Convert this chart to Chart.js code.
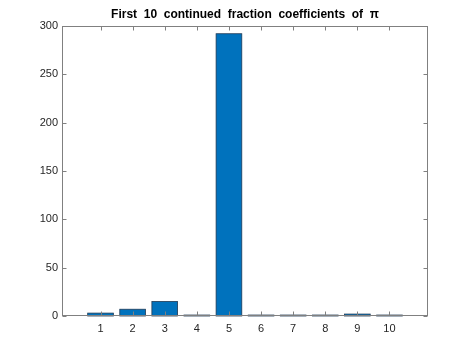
<!DOCTYPE html>
<html>
<head>
<meta charset="utf-8">
<script src="https://cdn.jsdelivr.net/npm/chart.js@4"></script>
<style>
  html, body { margin: 0; padding: 0; background: #fff; }
  #wrap { width: 474px; height: 355px; }
</style>
</head>
<body>
<div id="wrap"><canvas id="cf"></canvas></div>
<script>
// data
const positions = [1, 2, 3, 4, 5, 6, 7, 8, 9, 10];
const coeffs = [3, 7, 15, 1, 292, 1, 1, 1, 2, 1];
const yTicks = [0, 50, 100, 150, 200, 250, 300];
const titleText = 'First  10  continued  fraction  coefficients  of  \u03c0';

const axisGray = '#808080';
const barEdge = '#1f3a55';
const tickLen = 4;

// bar edges drawn centred on the bar outline, like MATLAB does
const barEdges = {
    id: 'barEdges',
    afterDatasetsDraw(chart) {
        const ctx = chart.ctx;
        ctx.save();
        ctx.strokeStyle = barEdge;
        ctx.lineWidth = 0.8;
        chart.getDatasetMeta(0).data.forEach(bar => {
            const p = bar.getProps(['x', 'y', 'base', 'width'], true);
            ctx.strokeRect(p.x - p.width / 2, p.y, p.width, p.base - p.y);
        });
        ctx.restore();
    }
};

// box around the plot + inward tick marks
const boxTicks = {
    id: 'boxTicks',
    afterDatasetsDraw(chart) {
        const {ctx, chartArea: a, scales} = chart;
        ctx.save();
        ctx.strokeStyle = axisGray;
        ctx.lineWidth = 1;
        const L = Math.round(a.left) + 0.5, R = Math.round(a.right) - 0.5;
        const T = Math.round(a.top) + 0.5, B = Math.round(a.bottom) - 0.5;
        ctx.strokeRect(L, T, R - L, B - T);
        ctx.beginPath();
        scales.x.ticks.forEach(t => {
            const px = Math.round(scales.x.getPixelForValue(t.value)) + 0.5;
            ctx.moveTo(px, B); ctx.lineTo(px, B - tickLen);
            ctx.moveTo(px, T); ctx.lineTo(px, T + tickLen);
        });
        scales.y.ticks.forEach(t => {
            const py = Math.round(scales.y.getPixelForValue(t.value)) + 0.5;
            ctx.moveTo(L, py); ctx.lineTo(L + tickLen, py);
            ctx.moveTo(R, py); ctx.lineTo(R - tickLen, py);
        });
        ctx.stroke();
        ctx.restore();
    }
};

new Chart('cf', {
    type: 'bar',
    data: {
        datasets: [{
            data: positions.map((p, i) => ({x: p, y: coeffs[i]})),
            backgroundColor: '#0072bd',
            borderWidth: 0,
            categoryPercentage: 1,
            barPercentage: 0.8
        }]
    },
    options: {
        responsive: true,
        maintainAspectRatio: false,
        animation: false,
        layout: { padding: { left: 0, right: 46, top: 0, bottom: 0 } },
        plugins: {
            legend: { display: false },
            tooltip: { enabled: false },
            title: {
                display: true,
                fullSize: false,
                text: titleText,
                color: '#000',
                font: { family: 'Liberation Sans', size: 12, weight: 'bold', lineHeight: 1.2 },
                padding: { top: 7, bottom: 4.6 }
            }
        },
        scales: {
            x: {
                type: 'linear',
                offset: false,
                min: -0.2,
                max: 11.2,
                grid: { display: false, drawTicks: false, offset: false },
                border: { display: false },
                afterBuildTicks: s => { s.ticks = positions.map(v => ({value: v})); },
                afterFit: s => { s.height = 39; },
                ticks: {
                    color: '#262626',
                    padding: 6,
                    maxRotation: 0,
                    font: { family: 'Liberation Sans', size: 11 }
                }
            },
            y: {
                min: 0,
                max: 300,
                grid: { display: false, drawTicks: false },
                border: { display: false },
                afterBuildTicks: s => { s.ticks = yTicks.map(v => ({value: v})); },
                afterFit: s => { s.width = 62; },
                ticks: {
                    color: '#262626',
                    padding: 4,
                    font: { family: 'Liberation Sans', size: 11 }
                }
            }
        }
    },
    plugins: [barEdges, boxTicks]
});
</script>
</body>
</html>
